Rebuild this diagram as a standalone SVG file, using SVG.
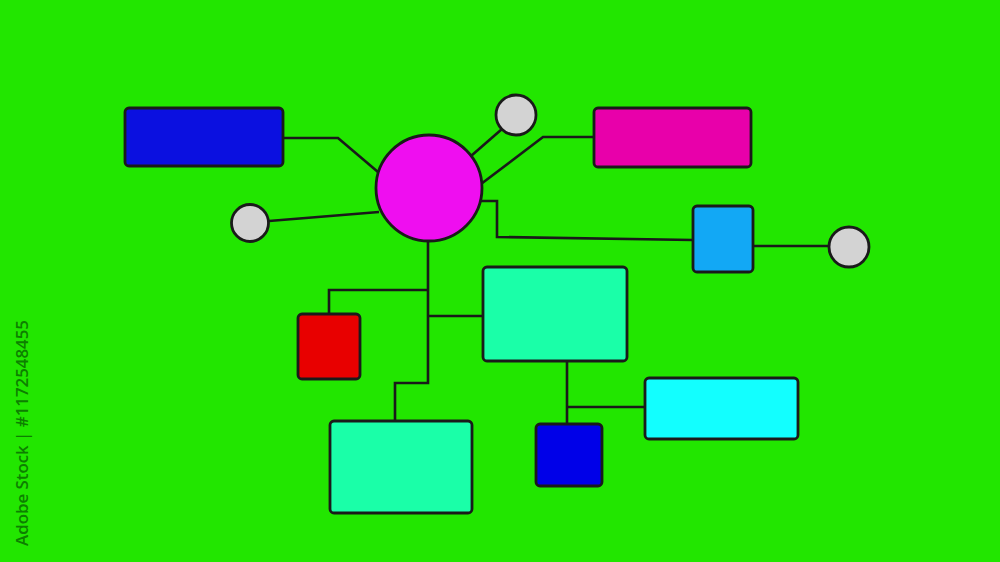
<svg xmlns="http://www.w3.org/2000/svg" width="1000" height="562" viewBox="0 0 1000 562">
<style>
.s{stroke:#1a1a1a;stroke-width:2.8}
.c{fill:none;stroke:#1a1a1a;stroke-width:2.6;stroke-linejoin:miter}
.g{fill:#d3d3d3}
.tag{font-family:"Open Sans","DejaVu Sans",sans-serif;font-size:17px;font-weight:600;fill:#0d7f00}
</style>
<rect width="1000" height="562" fill="#22e600"/>
<g id="connectors">
<polyline class="c" points="283,138 338,138 378,172"/>
<line class="c" x1="269" y1="221" x2="379" y2="212"/>
<line class="c" x1="471" y1="156" x2="502" y2="129"/>
<polyline class="c" points="594,137 543,137 481,184"/>
<polyline class="c" points="480,201 497,201 497,237 693,240"/>
<line class="c" x1="753" y1="246" x2="829" y2="246"/>
<polyline class="c" points="428,241 428,383 395,383 395,421"/>
<polyline class="c" points="428,290 329,290 329,314"/>
<line class="c" x1="428" y1="316" x2="483" y2="316"/>
<line class="c" x1="567" y1="361" x2="567" y2="424"/>
<line class="c" x1="567" y1="407" x2="645" y2="407"/>
</g>
<g id="blue-rect"><rect class="s" x="125" y="108" width="158" height="58" rx="4" fill="#0b10e0"/></g>
<g id="hub"><circle class="s" cx="429" cy="188" r="53" fill="#ef0ef0"/></g>
<g id="gray-top"><circle class="s g" cx="516" cy="115" r="20"/></g>
<g id="pink-rect"><rect class="s" x="594" y="108" width="157" height="59" rx="4" fill="#e800aa"/></g>
<g id="gray-left"><circle class="s g" cx="250" cy="223" r="18.5"/></g>
<g id="lightblue-square"><rect class="s" x="693" y="206" width="60" height="66" rx="4" fill="#12a8f5"/></g>
<g id="gray-right"><circle class="s g" cx="849" cy="247" r="20"/></g>
<g id="teal-upper"><rect class="s" x="483" y="267" width="144" height="94" rx="4" fill="#1affa8"/></g>
<g id="red-square"><rect class="s" x="298" y="314" width="62" height="65" rx="4" fill="#e80000"/></g>
<g id="teal-lower"><rect class="s" x="330" y="421" width="142" height="92" rx="4" fill="#1affa8"/></g>
<g id="darkblue-square"><rect class="s" x="536" y="424" width="66" height="62" rx="4" fill="#0000e8"/></g>
<g id="cyan-rect"><rect class="s" x="645" y="378" width="153" height="61" rx="4" fill="#12ffff"/></g>
<text class="tag" transform="translate(28,546) rotate(-90)" textLength="226" lengthAdjust="spacingAndGlyphs">Adobe Stock | #1172548455</text>
</svg>
